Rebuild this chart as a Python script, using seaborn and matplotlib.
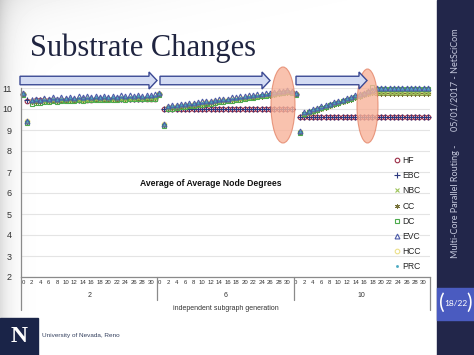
import numpy as np
import pandas as pd
import seaborn as sns
import matplotlib.pyplot as plt
from matplotlib.lines import Line2D
from matplotlib.patches import Rectangle, Ellipse, FancyArrow
from matplotlib import transforms

# categories: outer level = subgraph group, inner level = step 0..31
groups = ["2", "6", "10"]
steps = list(range(32))
step_labels = [str(s) for s in steps if s % 2 == 0]

# values, group 2 | group 6 | group 10
hf = [10.72, 10.40, 10.40, 10.41, 10.41, 10.42, 10.42, 10.42, 10.43, 10.43, 10.43, 10.44, 10.44, 10.44, 10.45, 10.45,
      10.45, 10.46, 10.46, 10.46, 10.47, 10.47, 10.47, 10.48, 10.48, 10.48, 10.49, 10.49, 10.49, 10.50, 10.50, 10.50,
      10.70, 10.00, 10.00, 10.00, 10.00, 10.00, 10.00, 10.00, 10.00, 10.00, 10.00, 10.00, 10.00, 10.00, 10.00, 10.00,
      10.00, 10.00, 10.00, 10.00, 10.00, 10.00, 10.00, 10.00, 10.00, 10.00, 10.00, 10.00, 10.00, 10.00, 10.00, 10.00,
      10.70, 9.60, 9.60, 9.60, 9.60, 9.60, 9.60, 9.60, 9.60, 9.60, 9.60, 9.60, 9.60, 9.60, 9.60, 9.60,
      9.60, 9.60, 9.60, 9.60, 9.60, 9.60, 9.60, 9.60, 9.60, 9.60, 9.60, 9.60, 9.60, 9.60, 9.60, 9.60]
ebc = [10.71, 10.41, 10.41, 10.42, 10.42, 10.43, 10.43, 10.43, 10.44, 10.44, 10.44, 10.45, 10.45, 10.45, 10.46, 10.46,
       10.46, 10.47, 10.47, 10.47, 10.48, 10.48, 10.48, 10.49, 10.49, 10.49, 10.50, 10.50, 10.50, 10.51, 10.51, 10.51,
       10.70, 10.01, 10.01, 10.01, 10.01, 10.01, 10.01, 10.01, 10.01, 10.01, 10.01, 10.01, 10.01, 10.01, 10.01, 10.01,
       10.01, 10.01, 10.01, 10.01, 10.01, 10.01, 10.01, 10.01, 10.01, 10.01, 10.01, 10.01, 10.01, 10.01, 10.01, 10.01,
       10.70, 9.61, 9.61, 9.61, 9.61, 9.61, 9.61, 9.61, 9.61, 9.61, 9.61, 9.61, 9.61, 9.61, 9.61, 9.61,
       9.61, 9.61, 9.61, 9.61, 9.61, 9.61, 9.61, 9.61, 9.61, 9.61, 9.61, 9.61, 9.61, 9.61, 9.61, 9.61]
nbc = [10.70, 9.40, 10.35, 10.37, 10.36, 10.39, 10.38, 10.41, 10.40, 10.42, 10.41, 10.43, 10.42, 10.44, 10.43, 10.45,
       10.44, 10.46, 10.45, 10.47, 10.46, 10.48, 10.47, 10.49, 10.48, 10.50, 10.49, 10.51, 10.50, 10.52, 10.51, 10.53,
       10.70, 9.25, 10.05, 10.08, 10.10, 10.13, 10.15, 10.18, 10.20, 10.23, 10.25, 10.28, 10.30, 10.33, 10.35, 10.38,
       10.40, 10.43, 10.45, 10.48, 10.50, 10.53, 10.55, 10.58, 10.60, 10.63, 10.66, 10.69, 10.72, 10.76, 10.80, 10.78,
       10.70, 8.90, 9.75, 9.82, 9.88, 9.95, 10.02, 10.08, 10.15, 10.22, 10.28, 10.35, 10.42, 10.48, 10.55, 10.62,
       10.68, 10.72, 10.76, 10.75, 10.75, 10.75, 10.75, 10.75, 10.75, 10.75, 10.75, 10.75, 10.75, 10.75, 10.75, 10.75]
cc = [10.69, 9.38, 10.33, 10.35, 10.34, 10.37, 10.36, 10.39, 10.38, 10.40, 10.39, 10.41, 10.40, 10.42, 10.41, 10.43,
      10.42, 10.44, 10.43, 10.45, 10.44, 10.46, 10.45, 10.47, 10.46, 10.48, 10.47, 10.49, 10.48, 10.50, 10.49, 10.51,
      10.68, 9.23, 10.03, 10.06, 10.08, 10.11, 10.13, 10.16, 10.18, 10.21, 10.23, 10.26, 10.28, 10.31, 10.33, 10.36,
      10.38, 10.41, 10.43, 10.46, 10.48, 10.51, 10.53, 10.56, 10.58, 10.61, 10.64, 10.67, 10.70, 10.74, 10.78, 10.76,
      10.68, 8.88, 9.72, 9.79, 9.85, 9.92, 9.99, 10.05, 10.12, 10.19, 10.25, 10.32, 10.39, 10.45, 10.52, 10.59,
      10.65, 10.70, 10.74, 10.73, 10.73, 10.73, 10.73, 10.73, 10.73, 10.73, 10.73, 10.73, 10.73, 10.73, 10.73, 10.73]
dc = [10.68, 9.35, 10.25, 10.27, 10.30, 10.33, 10.32, 10.36, 10.35, 10.38, 10.37, 10.40, 10.39, 10.41, 10.40, 10.42,
      10.41, 10.43, 10.42, 10.44, 10.43, 10.45, 10.44, 10.46, 10.45, 10.47, 10.46, 10.48, 10.47, 10.49, 10.48, 10.50,
      10.68, 9.20, 10.00, 10.02, 10.05, 10.08, 10.10, 10.13, 10.15, 10.18, 10.20, 10.23, 10.26, 10.29, 10.31, 10.34,
      10.37, 10.40, 10.42, 10.45, 10.48, 10.51, 10.54, 10.57, 10.60, 10.63, 10.66, 10.70, 10.74, 10.78, 10.82, 10.76,
      10.68, 8.85, 9.78, 9.84, 9.90, 9.97, 10.04, 10.10, 10.17, 10.24, 10.30, 10.37, 10.44, 10.50, 10.57, 10.64,
      10.72, 10.82, 11.05, 10.97, 10.97, 10.97, 10.97, 10.97, 10.97, 10.97, 10.97, 10.97, 10.97, 10.97, 10.97, 10.97]
evc = [10.75, 9.45, 10.42, 10.48, 10.45, 10.52, 10.48, 10.55, 10.50, 10.57, 10.52, 10.58, 10.53, 10.60, 10.55, 10.61,
       10.56, 10.62, 10.57, 10.63, 10.58, 10.64, 10.59, 10.65, 10.61, 10.66, 10.62, 10.67, 10.63, 10.68, 10.65, 10.70,
       10.75, 9.30, 10.15, 10.20, 10.20, 10.25, 10.26, 10.30, 10.30, 10.35, 10.36, 10.40, 10.40, 10.45, 10.46, 10.50,
       10.50, 10.55, 10.56, 10.60, 10.60, 10.65, 10.66, 10.70, 10.71, 10.75, 10.77, 10.81, 10.84, 10.88, 10.92, 10.85,
       10.75, 8.95, 9.85, 9.92, 9.98, 10.05, 10.12, 10.18, 10.25, 10.32, 10.38, 10.45, 10.52, 10.58, 10.65, 10.72,
       10.78, 10.85, 10.92, 10.98, 10.98, 10.98, 10.98, 10.98, 10.98, 10.98, 10.98, 10.98, 10.98, 10.98, 10.98, 10.98]
hcc = [10.71, 9.42, 10.37, 10.39, 10.38, 10.41, 10.40, 10.43, 10.42, 10.44, 10.43, 10.45, 10.44, 10.46, 10.45, 10.47,
       10.46, 10.48, 10.47, 10.49, 10.48, 10.50, 10.49, 10.51, 10.50, 10.52, 10.51, 10.53, 10.52, 10.54, 10.53, 10.55,
       10.72, 9.27, 10.08, 10.11, 10.13, 10.16, 10.18, 10.21, 10.23, 10.26, 10.28, 10.31, 10.33, 10.36, 10.38, 10.41,
       10.43, 10.46, 10.48, 10.51, 10.53, 10.56, 10.58, 10.61, 10.63, 10.66, 10.69, 10.72, 10.75, 10.79, 10.83, 10.80,
       10.72, 8.92, 9.78, 9.85, 9.91, 9.98, 10.05, 10.11, 10.18, 10.25, 10.31, 10.38, 10.45, 10.51, 10.58, 10.65,
       10.71, 10.76, 10.80, 10.78, 10.78, 10.78, 10.78, 10.78, 10.78, 10.78, 10.78, 10.78, 10.78, 10.78, 10.78, 10.78]
prc = [10.72, 9.42, 10.38, 10.42, 10.40, 10.45, 10.43, 10.48, 10.45, 10.50, 10.47, 10.51, 10.48, 10.53, 10.50, 10.54,
       10.51, 10.55, 10.52, 10.56, 10.53, 10.57, 10.54, 10.58, 10.56, 10.59, 10.57, 10.60, 10.58, 10.61, 10.60, 10.63,
       10.72, 9.27, 10.10, 10.14, 10.15, 10.19, 10.20, 10.24, 10.25, 10.29, 10.30, 10.34, 10.35, 10.39, 10.40, 10.44,
       10.45, 10.49, 10.50, 10.54, 10.55, 10.59, 10.60, 10.64, 10.66, 10.69, 10.72, 10.75, 10.78, 10.82, 10.86, 10.82,
       10.72, 8.92, 9.80, 9.87, 9.93, 10.00, 10.07, 10.13, 10.20, 10.27, 10.33, 10.40, 10.47, 10.53, 10.60, 10.67,
       10.74, 10.82, 10.95, 10.96, 10.96, 10.96, 10.96, 10.96, 10.96, 10.96, 10.96, 10.96, 10.96, 10.96, 10.96, 10.96]

series_names = ["HF", "EBC", "NBC", "CC", "DC", "EVC", "HCC", "PRC"]
series_values = [hf, ebc, nbc, cc, dc, evc, hcc, prc]

# long table: one row per point
rows = []
for name, vals in zip(series_names, series_values):
    for k, v in enumerate(vals):
        rows.append({"series": name, "group": groups[k // 32], "step": steps[k % 32], "pos": k, "value": v})
df = pd.DataFrame(rows)

# marker styles, roughly the Excel defaults of the slide
styles = {
    "HF":  dict(marker="o", mfc="none", mec="#9b2d46", ms=3.3, mew=0.8),
    "EBC": dict(marker="+", mfc="#2d3a80", mec="#2d3a80", ms=3.8, mew=0.8),
    "NBC": dict(marker="x", mfc="#9dc35a", mec="#9dc35a", ms=3.2, mew=0.8),
    "CC":  dict(marker=(6, 2, 0), mfc="#77733a", mec="#77733a", ms=3.4, mew=0.7),
    "DC":  dict(marker="s", mfc="none", mec="#4daa4d", ms=3.0, mew=0.8),
    "EVC": dict(marker="^", mfc="none", mec="#4b5aa8", ms=3.5, mew=0.8),
    "HCC": dict(marker="o", mfc="none", mec="#ece08a", ms=3.3, mew=0.8),
    "PRC": dict(marker="o", mfc="#48a8c0", mec="#48a8c0", ms=1.5, mew=0.5),
}
draw_order = ["HF", "EBC", "HCC", "CC", "NBC", "DC", "PRC", "EVC"]

sns.set_theme(style="white")
plt.rcParams["font.family"] = ["Liberation Sans", "DejaVu Sans"]

fig = plt.figure(figsize=(4.74, 3.55), dpi=100)
fig.patch.set_facecolor("white")

# slide background with a soft shadow at the left/top edge
bg_ax = fig.add_axes([0, 0, 1, 1], zorder=0)
yy, xx = np.mgrid[0:355, 0:474]
shade = 1 - 0.13 * np.exp(-xx / 10.0) - 0.07 * np.exp(-yy / 25.0) * np.exp(-xx / 120.0)
bg_ax.imshow(shade, cmap="gray", vmin=0, vmax=1, extent=(0, 474, 355, 0), aspect="auto")
bg_ax.set_axis_off()

# chart
ax = fig.add_axes([21 / 474, 1 - 277 / 355, 409 / 474, 189 / 355], zorder=2)
ax.set_facecolor("none")
for name in draw_order:
    sub = df[df["series"] == name]
    st = styles[name]
    sns.lineplot(data=sub, x="pos", y="value", ax=ax, linestyle="none", color=st["mec"],
                 estimator=None, errorbar=None, sort=False, clip_on=False, **st)

ax.set_xlim(-0.5, 95.5)
ax.set_ylim(2, 11)
ax.set_yticks(range(2, 12))
ax.set_yticklabels([str(v) for v in range(2, 12)], fontsize=6.5, color="#333333")
ax.tick_params(axis="y", length=3, width=0.6, color="#8a8a8a", pad=3.5)

tick_pos = [g * 32 + s for g in range(len(groups)) for s in steps if s % 2 == 0]
ax.set_xticks(tick_pos)
ax.set_xticklabels(step_labels * len(groups), fontsize=4.3, color="#333333")
ax.tick_params(axis="x", length=0, pad=2.5)
ax.set_xlabel("")
ax.set_ylabel("")

ax.yaxis.grid(True, color="#e4e4e4", lw=0.8)
ax.set_axisbelow(True)
for side in ["top", "right"]:
    ax.spines[side].set_visible(False)
for side in ["left", "bottom"]:
    ax.spines[side].set_color("#8a8a8a")
    ax.spines[side].set_linewidth(0.9)

# multi-level category axis: separators and group labels
trans = transforms.blended_transform_factory(ax.transData, ax.transAxes)
ax.plot([-0.5, -0.5], [0, -0.175], transform=trans, color="#8a8a8a", lw=0.9, clip_on=False)
ax.plot([95.5, 95.5], [0, -0.175], transform=trans, color="#8a8a8a", lw=0.9, clip_on=False)
for b in [31.5, 63.5]:
    ax.plot([b, b], [0, -0.12], transform=trans, color="#8a8a8a", lw=0.9, clip_on=False)
for g, label in enumerate(groups):
    ax.text(g * 32 + 15.5, -0.10, label, transform=trans, ha="center", va="center",
            fontsize=5, color="#333333")
ax.text(0.5, -0.165, "independent subgraph generation", transform=ax.transAxes,
        ha="center", va="center", fontsize=5, color="#333333")

ax.text(0.465, 0.497, "Average of Average Node Degrees", transform=ax.transAxes,
        ha="center", va="center", fontsize=6.2, fontweight="bold", color="#111111")

handles = [Line2D([], [], linestyle="none", **styles[n]) for n in series_names]
ax.legend(handles, series_names, loc="upper left", bbox_to_anchor=(394 / 474, 1 - 156 / 355),
          bbox_transform=fig.transFigure, frameon=False, fontsize=6.2, handlelength=0.7,
          handletextpad=0.25, labelspacing=0.72, borderaxespad=0, borderpad=0)

# slide decorations drawn in pixel coordinates
ov = fig.add_axes([0, 0, 1, 1], zorder=5)
ov.set_xlim(0, 474)
ov.set_ylim(355, 0)
ov.set_axis_off()
ov.patch.set_alpha(0)

ov.text(30, 56, "Substrate Changes", fontsize=22, family="Liberation Serif",
        color="#1f2440", va="baseline", ha="left")

for cx, cy, w, h in [(283, 105, 24, 76), (367.5, 106, 21, 74)]:
    ov.add_patch(Ellipse((cx, cy), w, h, facecolor="#f8b39a", edgecolor="#e38467",
                         lw=0.8, alpha=0.8, zorder=1))
for x0, length in [(20, 137), (160, 110), (296, 71)]:
    ov.add_patch(FancyArrow(x0, 80.5, length, 0, width=8.5, head_width=17, head_length=8,
                            length_includes_head=True, facecolor="#d3dbf3",
                            edgecolor="#3c4a94", lw=1.0, zorder=2))

# right sidebar
ov.add_patch(Rectangle((437, 0), 37, 355, color="#22264a", zorder=1))
ov.add_patch(Rectangle((437, 288), 37, 32, color="#4a5bc0", zorder=2))
ov.text(455.5, 304, "18/22", color="white", fontsize=6, family="Lato",
        ha="center", va="center", zorder=3)
ov.text(442, 303, "(", color="white", fontsize=15, family="Lato",
        ha="center", va="center", zorder=3)
ov.text(469, 303, ")", color="white", fontsize=15, family="Lato",
        ha="center", va="center", zorder=3)
ov.text(456, 143, "Multi-Core Parallel Routing -      05/01/2017 - NetSciCom", rotation=90,
        color="#c5c9dd", fontsize=6.5, family="Lato", ha="center", va="center", zorder=3)

# university logo
ov.add_patch(Rectangle((0, 318), 38, 37, color="#1a2448", zorder=1))
ov.text(19, 337, "N", color="white", fontsize=17, family="Liberation Serif",
        fontweight="bold", ha="center", va="center", zorder=2)
ov.text(42, 336, "University of Nevada, Reno", color="#34405e", fontsize=4.6,
        ha="left", va="center", zorder=2)

plt.savefig("out.png", dpi=100)
